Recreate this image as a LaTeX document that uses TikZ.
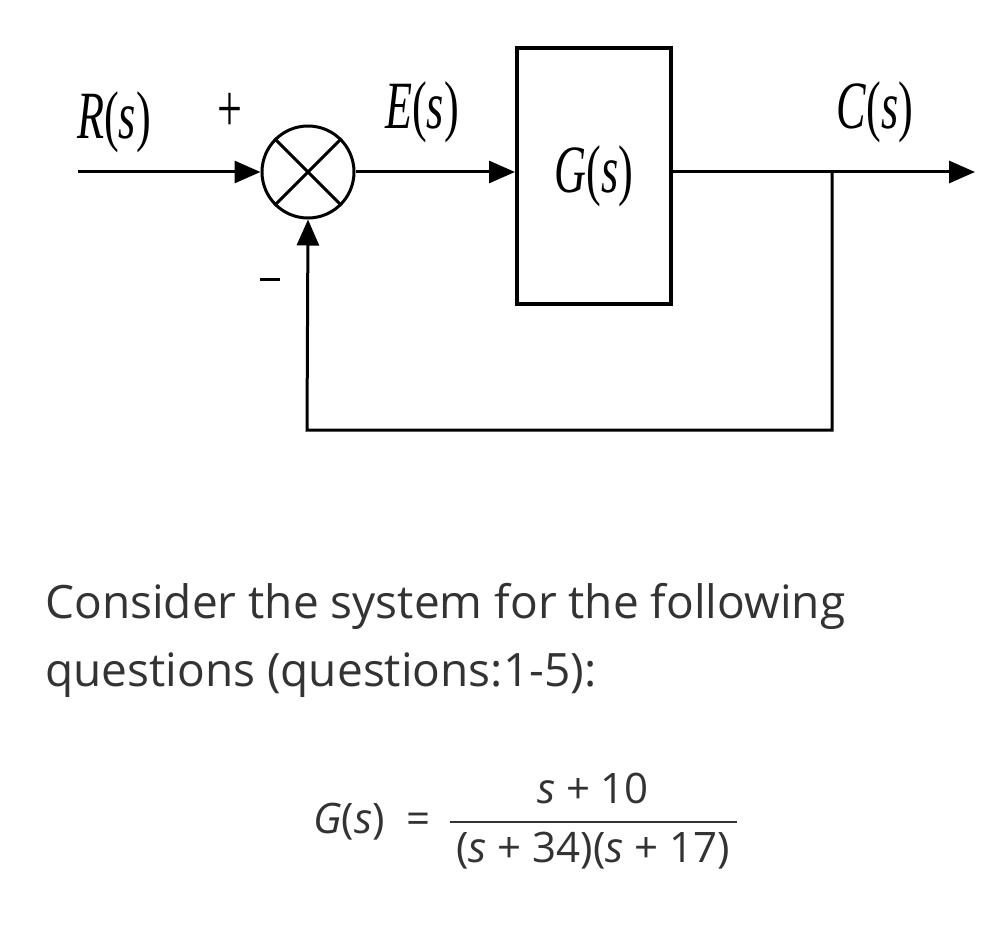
\documentclass[tikz,border=0pt]{standalone}
\usepackage{fontspec}
\setmainfont{Liberation Serif}
\newfontfamily\uisans{Open Sans}
\usetikzlibrary{arrows.meta}
\begin{document}
\begin{tikzpicture}[x=1pt,y=-1pt,
  wire/.style={line width=3pt,black},
  arr/.style={wire,-{Triangle[length=26pt,width=22pt]}},
  blk/.style={draw,line width=4pt,minimum width=154pt,minimum height=256pt,inner sep=0pt},
  sig/.style={font=\fontsize{52}{52}\selectfont,inner sep=0pt,xscale=0.85,yscale=1.3},
  txt/.style={font=\uisans\fontsize{46}{46}\selectfont,text=black!80,inner sep=0pt,anchor=base west},
  eq/.style={font=\uisans\fontsize{42}{42}\selectfont,text=black!80,inner sep=0pt}]
\useasboundingbox (0,0) rectangle (992,949);
\fill[white] (0,0) rectangle (992,949);
\coordinate (in) at (78,172);
\node[circle,draw,line width=3pt,minimum size=92pt,inner sep=0pt] (sum) at (308,172) {};
\draw[wire] (sum.45) -- (sum.225) (sum.135) -- (sum.315);
\node[blk] (G) at (594,176) {};
\node[sig] (Gl) at (594,176) {\textit{G}(\textit{s})};
\coordinate (out) at (975,172);
\coordinate (tap) at (832,172);
\coordinate (br) at (832,430);
\coordinate (bl) at (307,430);
\draw[arr] (in) -- (sum.west);
\draw[arr] (sum.east) -- (G.west |- sum.east);
\draw[arr] (G.east |- out) -- (out);
\draw[arr] (tap) -- (br) -- (bl) -- (sum.south);
\node[sig] (R) at (114,122) {\textit{R}(\textit{s})};
\node[sig] (plus) at (230,112) {+};
\node[sig] (minus) at (270,288) {\rule[0.25em]{0.45em}{2pt}};
\node[sig] (E) at (422,112) {\textit{E}(\textit{s})};
\node[sig] (C) at (875,112) {\textit{C}(\textit{s})};
\node[txt] (t1) at (45,618) {Consider the system for the following};
\node[txt] (t2) at (45,686) {questions (questions:1-5):};
\node[eq] (lhs) at (372,822) {\textit{G}(\textit{s})\ \ =};
\draw[line width=1.5pt,black!80] (450,822) -- (737,822);
\node[eq] (num) at (593,788) {\textit{s} + 10};
\node[eq] (den) at (593,851) {(\textit{s} + 34)(\textit{s} + 17)};
\end{tikzpicture}
\end{document}
